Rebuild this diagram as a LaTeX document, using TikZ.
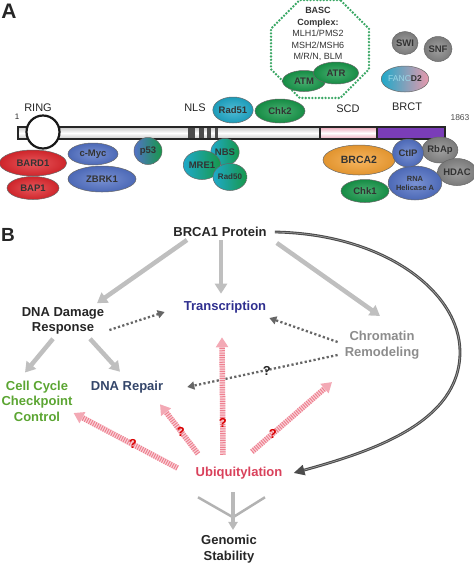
\documentclass[tikz,border=0pt]{standalone}
\usepackage{fontspec}
\setmainfont{Liberation Sans}
\usetikzlibrary{shapes.geometric,arrows.meta,calc}
\definecolor{pred}{HTML}{E0282E}
\definecolor{pblue}{HTML}{5372C6}
\definecolor{pgreen}{HTML}{17984A}
\definecolor{pcyan}{HTML}{1FA9C9}
\definecolor{pgray}{HTML}{858585}
\definecolor{porange}{HTML}{F5A133}
\definecolor{ppurple}{HTML}{7A3DB8}
\definecolor{ppink}{HTML}{E27F98}
\definecolor{txnavy}{HTML}{2F2F8F}
\definecolor{ccgreen}{HTML}{5BA532}
\definecolor{chromgray}{HTML}{8C8C8C}
\definecolor{ubired}{HTML}{D9415B}
\definecolor{repairblue}{HTML}{34466A}
\definecolor{hatchred}{HTML}{E8546A}
\begin{document}
\begin{tikzpicture}[x=1pt,y=1pt,
  prot/.style={ellipse, draw=black!60, line width=0.5pt, inner sep=0pt, text=black!80,
    font=\fontsize{9.5}{10}\selectfont\bfseries},
  pcol/.style={inner color=#1!78!white, outer color=#1!92!black},
  dom/.style={font=\fontsize{11}{12}\selectfont, text=black!85},
  lab/.style={font=\fontsize{13}{15.5}\selectfont\bfseries, align=center, inner sep=1pt},
  garr/.style={draw=gray!50, line width=4.5pt, -{Triangle[width=12pt,length=10pt]}},
  dotarr/.style={draw=black!60, line width=2.3pt, dash pattern=on 2.2pt off 2.3pt,
    -{Triangle[width=8pt,length=7pt]}},
  hatch/.style={draw=hatchred!25, line width=5.5pt,
    -{Triangle[width=12pt,length=10pt,fill=hatchred!50,color=hatchred!50]},
    postaction={draw=hatchred!75, arrows=-, dash pattern=on 1pt off 1.3pt, shorten >=10pt}},
  qm/.style={font=\fontsize{13}{14}\selectfont\bfseries, inner sep=0pt}
]
\useasboundingbox (0,0) rectangle (474,-566);

% ---------------- Panel A ----------------
\node[font=\fontsize{21}{22}\selectfont\bfseries, text=black!85] (labA) at (9,-11) {A};

% BASC octagon
\node[regular polygon, regular polygon sides=8, minimum size=106pt, draw=pgreen!85,
  line width=2.6pt, dash pattern=on 0pt off 3.3pt, line cap=round] (basc) at (320,-49) {};
\node[align=center, font=\fontsize{9}{11.5}\selectfont, text=black!80] (basctext) at (318,-34)
  {\textbf{BASC}\\\textbf{Complex:}\\MLH1/PMS2\\MSH2/MSH6\\M/R/N, BLM};
\node[prot, pcol=pgreen, minimum width=43pt, minimum height=21pt] (atm) at (304,-81) {ATM};
\node[prot, pcol=pgreen, minimum width=45pt, minimum height=22pt] (atr) at (336,-73) {ATR};

% SWI/SNF, FANCD2
\node[prot, pcol=pgray, minimum width=26pt, minimum height=23pt] (swi) at (405,-43) {SWI};
\node[prot, pcol=pgray, minimum width=28pt, minimum height=25pt] (snf) at (438,-49) {SNF};
\node[prot, left color=pcyan, right color=ppink!80, minimum width=43pt, minimum height=26pt,
  font=\fontsize{8.5}{10}\selectfont] (fancd2) at (405,-79) {{\color{pcyan!45!white}FANC}\textbf{D2}};

% domain labels
\node[font=\fontsize{8}{9}\selectfont, text=black!85] (one) at (17,-117) {1};
\node[dom] (ringlab) at (38,-108) {RING};
\node[dom] (nlslab) at (195,-108) {NLS};
\node[dom] (scdlab) at (348,-109) {SCD};
\node[dom] (brctlab) at (407,-107) {BRCT};
\node[font=\fontsize{8.5}{9}\selectfont, text=black!70] (len) at (460,-118) {1863};

% Rad51, Chk2 above bar
\node[prot, pcol=pcyan, minimum width=40pt, minimum height=26pt] (rad51) at (233,-110) {Rad51};
\node[prot, pcol=pgreen, minimum width=50pt, minimum height=24pt] (chk2) at (280,-111) {Chk2};

% protein bar
\shade[top color=gray!45, bottom color=gray!45, middle color=white] (18,-127) rectangle (320,-139);
\shade[top color=ppink!70, bottom color=ppink!70, middle color=white] (320,-127) rectangle (377,-139);
\fill[ppurple] (377,-127) rectangle (445,-139);
\fill[black!70] (188,-127) rectangle (195,-139);
\fill[black!70] (199,-127) rectangle (204,-139);
\fill[black!70] (207,-127) rectangle (211,-139);
\fill[black!70] (215,-127) rectangle (218,-139);
\draw[line width=1.3pt, black!85] (18,-127) rectangle (445,-139);
\draw[line width=1.1pt, black!85] (320,-127) -- (320,-139) (377,-127) -- (377,-139);
\node[circle, draw=black!90, line width=2.2pt, fill=white, minimum size=33pt, inner sep=0pt] (ring) at (43,-132) {};

% proteins below bar
\node[prot, pcol=pred, minimum width=67pt, minimum height=26pt] (bard1) at (33,-163) {BARD1};
\node[prot, pcol=pred, minimum width=52pt, minimum height=23pt] (bap1) at (33,-188) {BAP1};
\node[prot, pcol=pblue, minimum width=50pt, minimum height=22pt] (cmyc) at (93,-154) {c-Myc};
\node[prot, pcol=pblue, minimum width=68pt, minimum height=26pt] (zbrk1) at (102,-179) {ZBRK1};
\node[prot, left color=pblue, right color=pgreen, minimum width=28pt, minimum height=27pt] (p53) at (148,-151) {p53};
\node[prot, left color=pcyan, right color=pgreen, minimum width=28pt, minimum height=27pt] (nbs) at (225,-152) {NBS};
\node[prot, left color=pcyan, right color=pgreen, minimum width=31pt, minimum height=29pt] (mre1) at (202,-165) {MRE1};
\node[prot, left color=pcyan, right color=pgreen, minimum width=29pt, minimum height=27pt,
  font=\fontsize{8}{9}\selectfont\bfseries] (rad50) at (230,-177) {Rad50};
\node[prot, pcol=porange, minimum width=72pt, minimum height=30pt,
  font=\fontsize{10.5}{11}\selectfont\bfseries] (brca2) at (359,-160) {BRCA2};
\node[prot, pcol=pgreen, minimum width=48pt, minimum height=23pt] (chk1) at (365,-191) {Chk1};
\node[prot, pcol=pgray, minimum width=33pt, minimum height=26pt] (rbap) at (440,-150) {RbAp};
\node[prot, pcol=pgray, minimum width=34pt, minimum height=27pt] (hdac) at (457,-172) {HDAC};
\node[prot, pcol=pblue, minimum width=53pt, minimum height=34pt, align=center,
  font=\fontsize{7.5}{9}\selectfont\bfseries] (rnah) at (415,-183) {RNA\\Helicase A};
\node[prot, pcol=pblue, minimum width=31pt, minimum height=28pt] (ctip) at (408,-153) {CtIP};

% ---------------- Panel B ----------------
\node[font=\fontsize{19}{20}\selectfont\bfseries, text=black!85] (labB) at (8,-235) {B};

\node[lab, text=black!85] (brca) at (220,-232) {BRCA1 Protein};
\node[lab, text=txnavy] (trans) at (225,-307) {Transcription};
\node[lab, text=black!85] (ddr) at (63,-321) {DNA Damage\\Response};
\node[lab, text=chromgray] (chrom) at (382,-345) {Chromatin\\Remodeling};
\node[lab, text=ccgreen] (ccc) at (37,-401) {Cell Cycle\\Checkpoint\\Control};
\node[lab, text=repairblue] (repair) at (127,-387) {DNA Repair};
\node[lab, text=ubired] (ubi) at (239,-473) {Ubiquitylation};
\node[lab, text=black!85] (gen) at (229,-549) {Genomic\\Stability};

% gray arrows
\draw[garr] ([xshift=-33pt,yshift=-2pt]brca.south) -- ([xshift=34pt,yshift=3pt]ddr.north);
\draw[garr] ([xshift=1pt,yshift=-2pt]brca.south) -- ([xshift=-4pt,yshift=6pt]trans.north);
\draw[garr] ([xshift=9pt,yshift=-5pt]brca.south east) -- ([xshift=-2pt,yshift=14pt]chrom.north);
\draw[garr] ([xshift=-10pt,yshift=-3pt]ddr.south) -- ([xshift=-12pt,yshift=7pt]ccc.north);
\draw[garr] ([xshift=27pt,yshift=-3pt]ddr.south) -- ([xshift=-7pt,yshift=8pt]repair.north);

% dotted arrows
\draw[dotarr] ([xshift=4pt,yshift=-9pt]ddr.east) -- ([xshift=-18pt,yshift=-5pt]trans.west);
\draw[dotarr] ([xshift=-6pt,yshift=3pt]chrom.west) -- ([xshift=2pt,yshift=-11pt]trans.east);
\draw[dotarr] ([xshift=-6pt,yshift=-10pt]chrom.west) --
  node[pos=0.47, qm, text=black!85, yshift=-1pt] (q0) {?} ([xshift=23pt]repair.east);

% red hatched arrows
\draw[hatch] ([xshift=-17pt,yshift=5pt]ubi.west) --
  node[pos=0.43, qm, text=red!85!black] (q1) {?} ([yshift=-12pt]ccc.east);
\draw[hatch] ([xshift=-41pt,yshift=12pt]ubi.north) --
  node[pos=0.45, qm, text=red!85!black] (q2) {?} ([xshift=33pt,yshift=-10pt]repair.south);
\draw[hatch] ([xshift=-16pt,yshift=11pt]ubi.north) --
  node[pos=0.27, qm, text=red!85!black] (q3) {?} ([xshift=-3pt,yshift=-23pt]trans.south);
\draw[hatch] ([xshift=13pt,yshift=14pt]ubi.north) --
  node[pos=0.26, qm, text=red!85!black] (q4) {?} ([xshift=-50pt,yshift=-22pt]chrom.south);

% black curved arrow
\coordinate (bend) at (460,-352);
\draw[draw=black!70, line width=2.8pt, -{Triangle[width=10pt,length=11pt]},
  postaction={draw=gray!60, line width=0.5pt, arrows=-, shorten >=11pt}]
  ([xshift=7pt]brca.east) .. controls +(110,-2) and +(0,60) .. (bend)
  .. controls +(0,-70) and +(80,22) .. ([xshift=10pt]ubi.east);

% Y-shape to genomic stability
\coordinate (yj) at ([xshift=-6pt,yshift=-37pt]ubi.south);
\draw[gray!60, line width=2.5pt] ([xshift=-41pt,yshift=-17pt]ubi.south) -- (yj)
  -- ([xshift=26pt,yshift=-17pt]ubi.south);
\draw[draw=gray!55, line width=3.5pt, -{Triangle[width=9pt,length=8pt]}]
  ([xshift=-6pt,yshift=-12pt]ubi.south) -- ([xshift=4pt,yshift=4pt]gen.north);
\end{tikzpicture}
\end{document}
